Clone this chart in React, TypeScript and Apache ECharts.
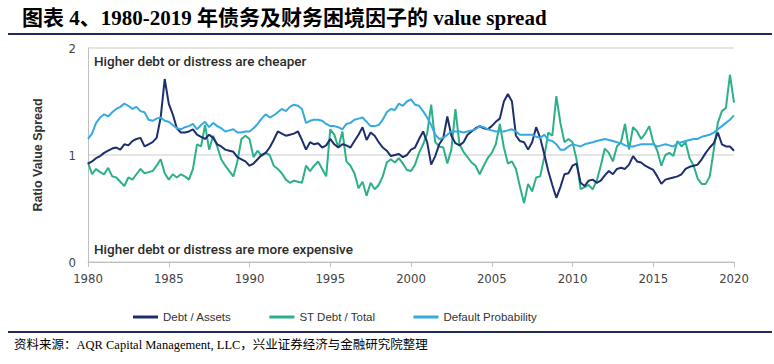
import React, { useEffect, useRef } from "react";
import * as echarts from "echarts";

const startYear = 1980;
const stepYears = 0.25;

const seriesNames = ["Debt / Assets", "ST Debt / Total", "Default Probability"];

const debtAssets = [
  0.92, 0.94, 0.97, 0.99, 1.02, 1.04, 1.06, 1.07, 1.05, 1.10, 1.09, 1.13,
  1.15, 1.16, 1.08, 1.10, 1.12, 1.16, 1.35, 1.71, 1.48, 1.38, 1.25, 1.21,
  1.21, 1.22, 1.24, 1.19, 1.17, 1.15, 1.19, 1.16, 1.10, 1.08, 1.05, 1.04,
  1.03, 0.98, 0.96, 0.94, 0.90, 0.92, 0.96, 1.00, 1.02, 1.07, 1.14, 1.22,
  1.20, 1.18, 1.19, 1.20, 1.22, 1.14, 1.05, 1.12, 1.10, 1.11, 1.07, 1.09,
  1.15, 1.10, 1.07, 1.10, 1.09, 1.07, 1.13, 1.19, 1.26, 1.14, 1.21, 1.18,
  1.12, 1.07, 1.04, 0.99, 1.00, 1.01, 0.98, 1.00, 1.05, 1.07, 1.15, 1.22,
  1.12, 0.91, 0.99, 1.10, 1.16, 1.36, 1.18, 1.11, 1.09, 1.12, 1.19, 1.22,
  1.25, 1.27, 1.25, 1.24, 1.27, 1.31, 1.34, 1.50, 1.57, 1.50, 1.18, 1.13,
  1.12, 1.05, 1.12, 1.26, 1.16, 1.01, 0.85, 0.72, 0.60, 0.70, 0.82, 0.83,
  0.90, 0.92, 0.74, 0.71, 0.76, 0.77, 0.74, 0.76, 0.81, 0.85, 0.82, 0.87,
  0.88, 0.87, 0.91, 0.99, 0.94, 0.93, 0.90, 0.88, 0.86, 0.80, 0.73, 0.77,
  0.78, 0.79, 0.80, 0.82, 0.87, 0.89, 0.90, 0.91, 0.96, 1.02, 1.07, 1.11,
  1.21, 1.10, 1.08, 1.08, 1.04,
];

const stDebtTotal = [
  0.93, 0.82, 0.87, 0.84, 0.82, 0.88, 0.80, 0.79, 0.75, 0.71, 0.79, 0.77,
  0.82, 0.87, 0.83, 0.84, 0.85, 0.90, 0.96, 0.83, 0.77, 0.82, 0.79, 0.82,
  0.80, 0.77, 0.87, 1.10, 1.08, 1.28, 1.05, 1.18, 1.08, 0.96, 0.90, 0.85,
  0.80, 0.94, 1.15, 1.18, 1.15, 0.98, 1.04, 0.99, 1.02, 1.00, 0.90, 0.87,
  0.83, 0.77, 0.74, 0.76, 0.75, 0.74, 0.90, 0.85, 0.90, 0.94, 0.87, 0.80,
  1.24, 1.19, 1.07, 1.22, 0.94, 0.90, 0.83, 0.69, 0.75, 0.62, 0.74, 0.68,
  0.72, 0.80, 0.93, 0.96, 0.93, 0.97, 0.92, 0.86, 0.85, 0.91, 1.02, 1.10,
  1.20, 1.47, 1.12, 1.08, 1.07, 0.92, 1.05, 1.43, 1.10, 1.03, 0.98, 0.93,
  0.90, 0.82, 0.90, 0.97, 1.02, 1.10, 1.29, 1.07, 0.92, 0.94, 0.87, 0.70,
  0.55, 0.73, 0.66, 0.79, 0.80, 0.98, 1.21, 1.18, 1.55, 1.30, 1.12, 1.15,
  1.12, 0.96, 0.68, 0.70, 0.72, 0.68, 0.76, 0.90, 1.06, 1.02, 0.94, 1.08,
  1.12, 1.29, 1.05, 1.26, 1.22, 1.15, 1.20, 1.27, 1.12, 1.04, 0.90, 1.00,
  1.02, 0.99, 1.13, 1.08, 1.12, 0.97, 0.90, 0.78, 0.73, 0.73, 0.80, 1.05,
  1.30, 1.41, 1.44, 1.75, 1.49,
];

const defaultProbability = [
  1.15, 1.20, 1.30, 1.35, 1.38, 1.36, 1.40, 1.43, 1.45, 1.48, 1.46, 1.43,
  1.45, 1.41, 1.40, 1.33, 1.32, 1.34, 1.35, 1.32, 1.31, 1.28, 1.25, 1.24,
  1.26, 1.27, 1.29, 1.24, 1.28, 1.31, 1.26, 1.30, 1.27, 1.25, 1.22, 1.23,
  1.24, 1.21, 1.21, 1.22, 1.22, 1.25, 1.29, 1.34, 1.38, 1.35, 1.37, 1.40,
  1.43, 1.41, 1.45, 1.47, 1.46, 1.43, 1.30, 1.32, 1.33, 1.33, 1.32, 1.29,
  1.27, 1.27, 1.26, 1.24, 1.29, 1.30, 1.33, 1.34, 1.35, 1.31, 1.27, 1.27,
  1.28, 1.33, 1.40, 1.43, 1.42, 1.48, 1.46, 1.50, 1.52, 1.47, 1.46, 1.41,
  1.35, 1.28, 1.19, 1.15, 1.16, 1.19, 1.22, 1.22, 1.22, 1.21, 1.22, 1.23,
  1.24, 1.27, 1.26, 1.24, 1.23, 1.22, 1.22, 1.22, 1.23, 1.24, 1.22, 1.19,
  1.19, 1.19, 1.19, 1.17, 1.16, 1.19, 1.14, 1.13, 1.10, 1.05, 1.05, 1.08,
  1.10, 1.09, 1.08, 1.10, 1.11, 1.12, 1.13, 1.14, 1.15, 1.14, 1.13, 1.12,
  1.11, 1.09, 1.08, 1.08, 1.09, 1.10, 1.10, 1.10, 1.10, 1.08, 1.09, 1.10,
  1.09, 1.08, 1.11, 1.12, 1.13, 1.14, 1.15, 1.15, 1.17, 1.18, 1.19, 1.21,
  1.24, 1.27, 1.30, 1.33, 1.37,
];

const titleText = "图表 4、1980-2019 年债务及财务困境因子的 value spread";
const sourceText = "资料来源：AQR Capital Management, LLC，兴业证券经济与金融研究院整理";
const topNote = "Higher debt or distress are cheaper";
const bottomNote = "Higher debt or distress are more expensive";
const yAxisName = "Ratio Value Spread";

const colors = ["#1c2e6e", "#2cb08a", "#36a9e1"];

const toPairs = (vals: number[]) =>
  vals.map((v, i) => [startYear + i * stepYears, v]);

export default function App() {
  const ref = useRef<HTMLDivElement>(null);
  useEffect(() => {
    document.body.style.margin = "0";
    if (!ref.current) return;
    const chart = echarts.init(ref.current, undefined, { renderer: "svg" });
    const serif = "'Liberation Serif', 'Times New Roman', 'Noto Sans CJK SC', serif";
    const sans = "'Liberation Sans', Arial, 'Noto Sans', sans-serif";
    const narrow = "'Liberation Sans Narrow', 'Arial Narrow', 'DejaVu Sans Condensed', sans-serif";
    chart.setOption({
      animation: false,
      backgroundColor: "#ffffff",
      color: colors,
      grid: { left: 88, right: 40, top: 48, bottom: 102, containLabel: false },
      legend: {
        left: 128,
        top: 306,
        itemGap: 38,
        itemWidth: 25,
        itemHeight: 3,
        icon: "rect",
        textStyle: { fontFamily: sans, fontSize: 11.5, color: "#333" },
        data: seriesNames,
      },
      xAxis: {
        type: "value",
        min: 1980,
        max: 2020,
        interval: 5,
        axisLine: { show: true, lineStyle: { color: "#bfbfbf", width: 1 } },
        axisTick: { show: true, length: 5, lineStyle: { color: "#bfbfbf" } },
        axisLabel: {
          color: "#444",
          fontSize: 13,
          fontFamily: narrow,
          margin: 10,
          formatter: (v: number) => String(v),
        },
        splitLine: { show: false },
      },
      yAxis: {
        type: "value",
        min: 0,
        max: 2,
        interval: 1,
        name: yAxisName,
        nameLocation: "middle",
        nameGap: 44,
        nameTextStyle: { color: "#333", fontSize: 12.5, fontWeight: "bold", fontFamily: sans },
        axisLine: { show: true, lineStyle: { color: "#bfbfbf", width: 1 } },
        axisTick: { show: false },
        axisLabel: { color: "#444", fontSize: 13, fontFamily: narrow, margin: 12 },
        splitLine: { show: true, lineStyle: { color: "#dcdcdc", width: 1.5 } },
      },
      series: [
        { name: seriesNames[0], type: "line", data: toPairs(debtAssets), showSymbol: false, lineStyle: { width: 2 }, z: 3 },
        { name: seriesNames[1], type: "line", data: toPairs(stDebtTotal), showSymbol: false, lineStyle: { width: 2 }, z: 2 },
        { name: seriesNames[2], type: "line", data: toPairs(defaultProbability), showSymbol: false, lineStyle: { width: 2 }, z: 4 },
      ],
      graphic: [
        {
          type: "text",
          left: 22,
          top: 7,
          style: { text: titleText, font: `bold 21px ${serif}`, fill: "#000" },
        },
        {
          type: "line",
          shape: { x1: 8, y1: 34, x2: 772, y2: 34 },
          style: { stroke: "#1f2a5c", lineWidth: 2 },
        },
        {
          type: "text",
          left: 94,
          top: 54,
          style: { text: topNote, font: `500 13.5px Roboto, ${sans}`, fill: "#2b2b2b" },
        },
        {
          type: "text",
          left: 94,
          top: 242,
          style: { text: bottomNote, font: `500 13.5px Roboto, ${sans}`, fill: "#2b2b2b" },
        },
        {
          type: "line",
          shape: { x1: 8, y1: 332, x2: 772, y2: 332 },
          style: { stroke: "#1f2a5c", lineWidth: 2 },
        },
        {
          type: "text",
          left: 14,
          top: 339,
          style: { text: sourceText, font: `12.5px ${serif}`, fill: "#000" },
        },
      ],
    });
    return () => chart.dispose();
  }, []);
  return <div ref={ref} style={{ width: 774, height: 364 }} />;
}
